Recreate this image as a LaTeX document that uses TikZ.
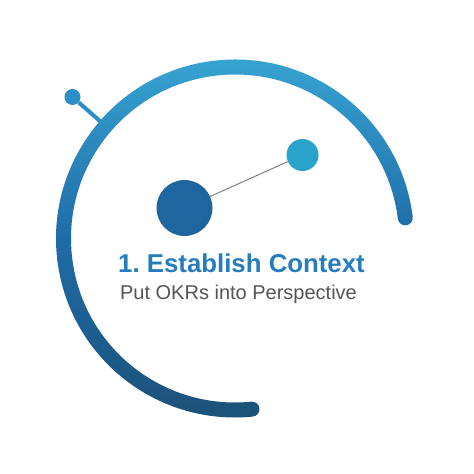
\documentclass[tikz,border=0pt]{standalone}
\usepackage{fontspec}
\setmainfont{Liberation Sans}
\usepackage{xcolor}
\definecolor{arctop}{RGB}{56, 166, 211}
\definecolor{arcmid}{RGB}{31, 108, 168}
\definecolor{arcbot}{RGB}{27, 80, 118}
\definecolor{hub}{RGB}{30, 102, 160}
\definecolor{tip}{RGB}{41, 163, 201}
\definecolor{knob}{RGB}{43, 142, 198}
\definecolor{tit}{RGB}{38, 125, 190}
\definecolor{sub}{RGB}{85, 85, 85}
\tikzset{dot/.style={circle, inner sep=0pt}}
\frenchspacing

\begin{document}
\begin{tikzpicture}[x=1pt, y=1pt]
      \useasboundingbox (0, 0) rectangle (474, 474);
      \coordinate (c) at (235, 235.5);
      \path (c) ++(139:171.5) coordinate (foot);
      \node[dot, fill=knob, minimum size=16](knob) at (72.5, 377) {};
      \draw[color=knob, line width=4] (knob) -- (foot);
      % ring with round ends
      \shade[top color=arctop, bottom color=arcbot, middle color=arcmid]
        (c) ++(6.9:179) arc[start angle=6.9, end angle=275.7, radius=179]
        arc[start angle=275.7, end angle=455.7, radius=7.5]
        arc[start angle=275.7, end angle=6.9, radius=164]
        arc[start angle=186.9, end angle=366.9, radius=7.5] -- cycle;
      \node[dot, fill=hub, minimum size=56](hub) at (184.5, 266) {};
      \node[dot, fill=tip, minimum size=32](tip) at (302.5, 319) {};
      \draw[color=gray, line width=1] (hub) -- (tip);
      \node[anchor=base, inner sep=0, color=tit, font=\bfseries\fontsize{25.8}{30}\selectfont](title) at (241.5, 201) {1. Establish Context};
      \node[anchor=base, inner sep=0, color=sub, font=\fontsize{20}{24}\selectfont](subtitle) at (238.5, 174) {Put OKRs into Perspective};
\end{tikzpicture}
\end{document}
